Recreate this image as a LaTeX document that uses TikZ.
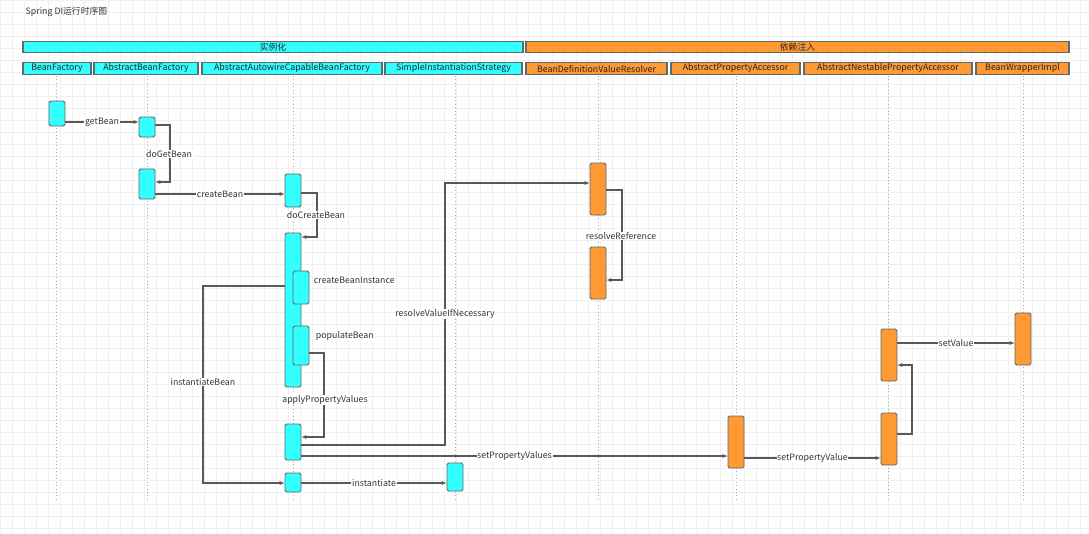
\documentclass[tikz,border=0pt]{standalone}
\usepackage{fontspec}
\setmainfont{Noto Sans CJK SC}
\usetikzlibrary{arrows.meta}
\definecolor{cy}{HTML}{33FFFF}
\definecolor{org}{HTML}{FF9933}
\definecolor{bd}{HTML}{5F6A6A}
\begin{document}
\begin{tikzpicture}[x=0.75pt,y=-0.75pt,font=\fontsize{6.6}{8}\selectfont,
 hdr/.style={draw=bd,line width=0.8pt,inner sep=0pt,minimum height=11.5*0.75pt,text=black!85},
 act/.style={draw=bd,line width=0.7pt,rounded corners=1.2pt},
 life/.style={gray!70,dotted,line width=0.6pt},
 msg/.style={draw=black!65,line width=0.8pt,-{Latex[length=4pt,width=3pt]}},
 lab/.style={fill=white,inner sep=0.5pt,text=black!80}]
\useasboundingbox (0,0) rectangle (1089,533);
\fill[white] (0,0) rectangle (1089,533);
\foreach \i in {0,12,...,1089} \draw[black!6,line width=0.3pt] (\i,0) -- (\i,533);
\foreach \j in {0,12,...,533} \draw[black!6,line width=0.3pt] (0,\j) -- (1089,\j);
\node[anchor=west,text=black!80] (title) at (21,12) {Spring DI运行时序图};
% groups
\node[hdr,fill=cy,minimum width=500*0.75pt] (g1) at (273,47) {实例化};
\node[hdr,fill=org,minimum width=543*0.75pt] (g2) at (797.5,47) {依赖注入};
% class headers
\foreach \n/\a/\b/\t/\c in {c1/23/91/BeanFactory/cy, c2/94/198/AbstractBeanFactory/cy, c3/202/382/AbstractAutowireCapableBeanFactory/cy, c4/385/522/SimpleInstantiationStrategy/cy, c5/526/667/BeanDefinitionValueResolver/org, c6/671/800/AbstractPropertyAccessor/org, c7/804/972/AbstractNestablePropertyAccessor/org, c8/976/1069/BeanWrapperImpl/org}
  \node[hdr,fill=\c,minimum width={(\b-\a)*0.75pt}] (\n) at ({(\a+\b)/2},68.5) {\t};
% lifelines
\foreach \n/\x in {c1/56,c2/147,c3/293,c4/455,c5/598,c6/736,c7/888,c8/1023}
  \draw[life] (\x,76) -- (\x,502);
% activations
\newcommand\actbox[6]{\draw[act,fill=#6] (#2,#3) rectangle (#4,#5) node[coordinate] (#1) {};
  \coordinate (#1c) at ({(#2+#4)/2},{(#3+#5)/2});}
\actbox{a1}{49}{101}{65}{126}{cy}
\actbox{a2}{139}{117}{155}{137}{cy}
\actbox{a3}{139}{169}{155}{199}{cy}
\actbox{a4}{285}{174}{301}{207}{cy}
\actbox{a5}{285}{233}{301}{387}{cy}
\actbox{a6}{293}{271}{309}{304}{cy}
\actbox{a7}{293}{326}{309}{365}{cy}
\actbox{a8}{285}{424}{301}{460}{cy}
\actbox{a9}{285}{473}{301}{492}{cy}
\actbox{s1}{447}{463}{463}{491}{cy}
\actbox{r1}{590}{163}{606}{215}{org}
\actbox{r2}{590}{247}{606}{299}{org}
\actbox{p1}{728}{416}{744}{468}{org}
\actbox{n1}{881}{329}{897}{381}{org}
\actbox{n2}{881}{413}{897}{465}{org}
\actbox{w1}{1015}{313}{1031}{365}{org}
% messages
\path[msg] (65,122) -- node[lab]{getBean} (139,122);
\path[msg] (155,125) -- (170,125) -- (170,182) -- (155,182);
\node[lab] (l1) at (169,154) {doGetBean};
\path[msg] (155,194) -- node[lab]{createBean} (285,194);
\path[msg] (301,193) -- (317,193) -- (317,237) -- (301,237);
\node[lab] (l2) at (316,215) {doCreateBean};
\node[lab,anchor=west] (l3) at (313,280) {createBeanInstance};
\path[msg] (309,353) -- (324,353) -- (324,437) -- (301,437);
\node[lab,anchor=west] (l4) at (315,336) {populateBean};
\node[lab] (l5) at (325,400) {applyPropertyValues};
\path[msg] (285,286) -- (203,286) -- (203,483) -- (285,483);
\node[lab] (l6) at (203,382) {instantiateBean};
\path[msg] (301,483) -- node[lab]{instantiate} (447,483);
\path[msg] (301,445) -- (445,445) -- (445,183) -- (590,183);
\node[lab] (l7) at (445,314) {resolveValueIfNecessary};
\path[msg] (301,456) -- node[lab,pos=0.5]{setPropertyValues} (728,456);
\path[msg] (606,190) -- (622,190) -- (622,280) -- (606,280);
\node[lab] (l8) at (621,236) {resolveReference};
\path[msg] (744,458) -- node[lab]{setPropertyValue} (881,458);
\path[msg] (897,434) -- (912,434) -- (912,365) -- (897,365);
\path[msg] (897,343) -- node[lab]{setValue} (1015,343);
\end{tikzpicture}
\end{document}
